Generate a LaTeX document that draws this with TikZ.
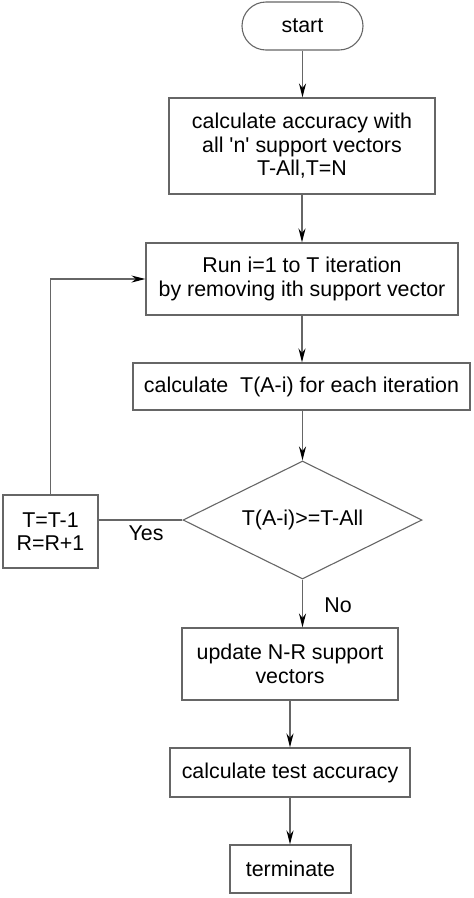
\documentclass[tikz,border=0pt]{standalone}
\usepackage{fontspec}
\setmainfont{Liberation Sans}
\newfontfamily\plainq{Liberation Sans}
\usetikzlibrary{shapes.geometric,arrows.meta}
\definecolor{ln}{HTML}{666666}
\newcommand{\sq}{{\plainq'}}
\begin{document}
\begin{tikzpicture}[x=1pt,y=-1pt,
  every node/.style={font=\fontsize{21.4}{23.5}\selectfont, text=black},
  box/.style={draw=ln, line width=1.1pt, rectangle, inner sep=0pt, align=center},
  arr/.style={draw=ln, line width=1.1pt, -{Stealth[length=14pt,width=7pt,inset=4.5pt,fill=black,color=black]}},
  ln/.style={draw=ln, line width=1.1pt}]
\useasboundingbox (0,0) rectangle (474,898);
\node[box, rounded corners=24pt, minimum width=121pt, minimum height=48pt] (start) at (302.5,26) {start};
\node[box, minimum width=266pt, minimum height=96pt] (b1) at (302,146) {calculate accuracy with\\all \sq n\sq{} support vectors\\T-All,T=N};
\node[box, minimum width=312pt, minimum height=72pt] (b2) at (302,279) {Run i=1 to T iteration\\by removing ith support vector};
\node[box, minimum width=337pt, minimum height=47pt] (b3) at (301.5,386.5) {calculate\ \ T(A-i) for each iteration};
\node[box, diamond, aspect=2.03, minimum width=239pt, minimum height=118pt] (dia) at (302.5,520) {T(A-i)>=T-All};
\node[box, minimum width=95pt, minimum height=73pt] (tb) at (50.5,531.5) {T=T-1\\R=R+1};
\node[box, minimum width=216pt, minimum height=72pt] (upd) at (290,664) {update N-R support\\vectors};
\node[box, minimum width=240pt, minimum height=49pt] (test) at (290,772.5) {calculate test accuracy};
\node[box, minimum width=121pt, minimum height=48pt] (term) at (290.5,869) {terminate};
\node (yes) at (146,533) {Yes};
\node (no) at (338,605) {No};
\draw[arr] (start.south) -- (start.south |- b1.north);
\draw[arr] (b1.south) -- (b1.south |- b2.north);
\draw[arr] (b2.south) -- (b2.south |- b3.north);
\draw[arr] (b3.south -| dia.north) -- (dia.north);
\draw[arr] (dia.south) -- (dia.south |- upd.north);
\draw[arr] (upd.south) -- (test.north);
\draw[arr] (test.south) -- (test.south |- term.north);
\draw[arr] (tb.north) -- (tb.north |- b2.west) -- (b2.west);
\draw[ln] (dia.west) -- (dia.west -| tb.east);
\end{tikzpicture}
\end{document}
